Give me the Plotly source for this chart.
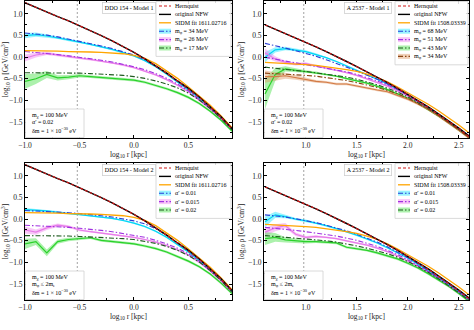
import plotly.graph_objects as go

# ---------------- data ----------------
x_ddo = [-1.0, -0.9, -0.8, -0.7, -0.6, -0.5, -0.4, -0.3, -0.2, -0.1,
         0.0, 0.1, 0.2, 0.3, 0.4, 0.5, 0.6, 0.7, 0.8, 0.9]
x_a = [0.6, 0.7, 0.8, 0.9, 1.0, 1.1, 1.2, 1.3, 1.4, 1.5, 1.6,
       1.7, 1.8, 1.9, 2.0, 2.1, 2.2, 2.3, 2.4, 2.5, 2.6]

# DDO 154
nfw_ddo = [1.26, 1.15, 1.05, 0.94, 0.84, 0.73, 0.62, 0.50, 0.38, 0.25,
           0.11, -0.04, -0.20, -0.37, -0.55, -0.72, -0.92, -1.14, -1.38, -1.65]
hern_ddo = [1.26, 1.15, 1.05, 0.94, 0.84, 0.73, 0.62, 0.50, 0.38, 0.25,
            0.11, -0.04, -0.20, -0.37, -0.55, -0.73, -0.93, -1.15, -1.39, -1.66]
sidm_ddo = [0.15, 0.15, 0.14, 0.14, 0.13, 0.13, 0.12, 0.11, 0.10, 0.08,
            0.04, -0.03, -0.15, -0.31, -0.49, -0.69, -0.89, -1.11, -1.36, -1.63]

# DDO 154 model 1 : m_phi = 34, 26, 17 MeV
ddo1_fit_34 = [0.56, 0.54, 0.51, 0.47, 0.42, 0.37, 0.32, 0.26, 0.20, 0.13,
               0.05, -0.06, -0.20, -0.37, -0.55, -0.73, -0.93, -1.15, -1.39, -1.66]
ddo1_sim_34 = [0.50, 0.52, 0.49, 0.45, 0.40, 0.35, 0.30, 0.24, 0.18, 0.11,
               0.03, -0.08, -0.22, -0.39, -0.57, -0.75, -0.95, -1.17, -1.40, -1.67]
ddo1_err_34 = [0.06, 0.05, 0.04, 0.03, 0.03, 0.02, 0.02, 0.02, 0.02, 0.02,
               0.02, 0.02, 0.02, 0.02, 0.02, 0.02, 0.02, 0.02, 0.02, 0.02]
ddo1_fit_26 = [0.13, 0.11, 0.09, 0.06, 0.03, 0.00, -0.03, -0.07, -0.11, -0.16,
               -0.22, -0.29, -0.38, -0.49, -0.62, -0.78, -0.97, -1.18, -1.41, -1.67]
ddo1_sim_26 = [-0.02, 0.05, 0.09, 0.05, 0.02, -0.02, -0.05, -0.09, -0.13, -0.18,
               -0.24, -0.32, -0.41, -0.52, -0.65, -0.80, -0.99, -1.20, -1.42, -1.68]
ddo1_err_26 = [0.08, 0.06, 0.04, 0.03, 0.03, 0.02, 0.02, 0.02, 0.02, 0.02,
               0.02, 0.02, 0.02, 0.02, 0.02, 0.02, 0.02, 0.02, 0.02, 0.02]
ddo1_fit_17 = [-0.36, -0.36, -0.36, -0.36, -0.37, -0.37, -0.38, -0.39, -0.40, -0.42,
               -0.45, -0.49, -0.55, -0.62, -0.71, -0.83, -0.99, -1.19, -1.42, -1.68]
ddo1_sim_17 = [-0.56, -0.50, -0.40, -0.48, -0.46, -0.43, -0.45, -0.47, -0.48, -0.50,
               -0.53, -0.58, -0.65, -0.73, -0.82, -0.93, -1.07, -1.25, -1.46, -1.71]
ddo1_err_17 = [0.17, 0.12, 0.08, 0.06, 0.05, 0.04, 0.03, 0.03, 0.03, 0.03,
               0.03, 0.03, 0.03, 0.03, 0.03, 0.03, 0.03, 0.03, 0.03, 0.03]

# DDO 154 model 2 : alpha' = 0.01, 0.015, 0.02
ddo2_fit_a1 = [0.20, 0.19, 0.18, 0.17, 0.15, 0.13, 0.11, 0.08, 0.05, 0.01,
               -0.04, -0.11, -0.22, -0.37, -0.54, -0.73, -0.93, -1.15, -1.39, -1.66]
ddo2_sim_a1 = [0.22, 0.21, 0.19, 0.16, 0.13, 0.11, 0.08, 0.05, 0.02, -0.03,
               -0.09, -0.17, -0.28, -0.42, -0.58, -0.76, -0.96, -1.17, -1.41, -1.67]
ddo2_err_a1 = [0.04, 0.03, 0.03, 0.03, 0.02, 0.02, 0.02, 0.02, 0.02, 0.02,
               0.02, 0.02, 0.02, 0.02, 0.02, 0.02, 0.02, 0.02, 0.02, 0.02]
ddo2_fit_a2 = [-0.14, -0.15, -0.16, -0.17, -0.19, -0.21, -0.23, -0.26, -0.29, -0.33,
               -0.37, -0.42, -0.49, -0.57, -0.67, -0.80, -0.97, -1.18, -1.41, -1.68]
ddo2_sim_a2 = [-0.25, -0.30, -0.20, -0.14, -0.17, -0.25, -0.29, -0.32, -0.35, -0.38,
               -0.42, -0.47, -0.53, -0.61, -0.71, -0.83, -1.00, -1.20, -1.43, -1.69]
ddo2_err_a2 = [0.08, 0.06, 0.05, 0.04, 0.03, 0.03, 0.02, 0.02, 0.02, 0.02,
               0.02, 0.02, 0.02, 0.02, 0.02, 0.02, 0.02, 0.02, 0.02, 0.02]
ddo2_fit_a3 = [-0.38, -0.38, -0.38, -0.39, -0.39, -0.40, -0.41, -0.42, -0.43, -0.45,
               -0.47, -0.51, -0.56, -0.63, -0.72, -0.84, -0.99, -1.19, -1.42, -1.69]
ddo2_sim_a3 = [-0.57, -0.52, -0.78, -0.52, -0.47, -0.45, -0.43, -0.49, -0.52, -0.54,
               -0.57, -0.62, -0.68, -0.76, -0.86, -0.97, -1.10, -1.27, -1.48, -1.72]
ddo2_err_a3 = [0.12, 0.08, 0.08, 0.05, 0.04, 0.03, 0.03, 0.03, 0.03, 0.03,
               0.03, 0.03, 0.03, 0.03, 0.03, 0.03, 0.03, 0.03, 0.03, 0.03]

# A 2537
nfw_a = [0.75, 0.65, 0.55, 0.45, 0.35, 0.24, 0.13, 0.02, -0.10, -0.22, -0.34,
         -0.46, -0.59, -0.72, -0.86, -1.00, -1.15, -1.31, -1.47, -1.64, -1.82]
hern_a = [0.75, 0.65, 0.55, 0.45, 0.35, 0.24, 0.13, 0.02, -0.10, -0.22, -0.34,
          -0.46, -0.59, -0.72, -0.86, -1.01, -1.16, -1.32, -1.48, -1.65, -1.84]
sidm_a = [-0.12, -0.13, -0.14, -0.16, -0.17, -0.19, -0.22, -0.25, -0.29, -0.33, -0.39,
          -0.47, -0.57, -0.69, -0.82, -0.95, -1.09, -1.24, -1.40, -1.57, -1.75]

# A 2537 model 1 : m_phi = 68, 51, 43, 34 MeV
a1_fit_68 = [0.32, 0.27, 0.21, 0.15, 0.09, 0.02, -0.06, -0.14, -0.23, -0.32, -0.41,
             -0.51, -0.62, -0.74, -0.87, -1.01, -1.16, -1.32, -1.48, -1.65, -1.83]
a1_sim_68 = [0.00, 0.17, 0.20, 0.17, 0.13, 0.06, -0.01, -0.10, -0.20, -0.30, -0.40,
             -0.51, -0.62, -0.75, -0.88, -1.02, -1.17, -1.33, -1.49, -1.66, -1.84]
a1_err_68 = [0.12, 0.06, 0.04, 0.03, 0.03, 0.03, 0.02, 0.02, 0.02, 0.02, 0.02,
             0.02, 0.02, 0.02, 0.02, 0.02, 0.02, 0.02, 0.02, 0.02, 0.02]
a1_fit_51 = [0.00, -0.05, -0.09, -0.13, -0.17, -0.21, -0.25, -0.29, -0.34, -0.40, -0.47,
             -0.55, -0.64, -0.75, -0.88, -1.02, -1.17, -1.33, -1.49, -1.66, -1.84]
a1_sim_51 = [0.10, -0.04, -0.12, -0.16, -0.15, -0.20, -0.26, -0.30, -0.36, -0.42, -0.50,
             -0.58, -0.67, -0.78, -0.90, -1.04, -1.19, -1.34, -1.50, -1.67, -1.85]
a1_err_51 = [0.10, 0.06, 0.04, 0.03, 0.03, 0.02, 0.02, 0.02, 0.02, 0.02, 0.02,
             0.02, 0.02, 0.02, 0.02, 0.02, 0.02, 0.02, 0.02, 0.02, 0.02]
a1_fit_43 = [-0.23, -0.26, -0.28, -0.31, -0.33, -0.36, -0.39, -0.42, -0.46, -0.51, -0.57,
             -0.64, -0.72, -0.81, -0.92, -1.05, -1.19, -1.34, -1.50, -1.67, -1.85]
a1_sim_43 = [-0.85, -0.40, -0.27, -0.30, -0.33, -0.36, -0.40, -0.44, -0.50, -0.55, -0.60,
             -0.67, -0.75, -0.85, -0.95, -1.07, -1.21, -1.36, -1.52, -1.69, -1.86]
a1_err_43 = [0.35, 0.15, 0.06, 0.04, 0.03, 0.03, 0.02, 0.02, 0.02, 0.02, 0.02,
             0.02, 0.02, 0.02, 0.02, 0.02, 0.02, 0.02, 0.02, 0.02, 0.02]
a1_fit_34 = [-0.37, -0.38, -0.39, -0.40, -0.42, -0.44, -0.47, -0.50, -0.54, -0.59, -0.64,
             -0.70, -0.77, -0.85, -0.95, -1.07, -1.20, -1.35, -1.51, -1.68, -1.86]
a1_sim_34 = [-0.45, -0.45, -0.43, -0.47, -0.52, -0.56, -0.58, -0.62, -0.62, -0.67, -0.72,
             -0.76, -0.80, -0.88, -0.97, -1.08, -1.21, -1.36, -1.52, -1.69, -1.87]
a1_err_34 = [0.14, 0.10, 0.07, 0.05, 0.04, 0.03, 0.03, 0.03, 0.03, 0.03, 0.03,
             0.03, 0.03, 0.03, 0.03, 0.03, 0.03, 0.03, 0.03, 0.03, 0.03]

# A 2537 model 2 : alpha' = 0.01, 0.015, 0.02
a2_fit_a1 = [0.10, 0.08, 0.05, 0.01, -0.03, -0.08, -0.14, -0.20, -0.27, -0.35, -0.44,
             -0.53, -0.64, -0.76, -0.89, -1.03, -1.18, -1.34, -1.50, -1.67, -1.85]
a2_sim_a1 = [-0.06, 0.10, 0.06, 0.00, -0.04, -0.09, -0.15, -0.22, -0.29, -0.37, -0.46,
             -0.55, -0.66, -0.78, -0.90, -1.04, -1.19, -1.35, -1.51, -1.68, -1.86]
a2_err_a1 = [0.12, 0.07, 0.04, 0.03, 0.03, 0.02, 0.02, 0.02, 0.02, 0.02, 0.02,
             0.02, 0.02, 0.02, 0.02, 0.02, 0.02, 0.02, 0.02, 0.02, 0.02]
a2_fit_a2 = [-0.19, -0.21, -0.23, -0.26, -0.29, -0.32, -0.35, -0.39, -0.44, -0.49, -0.56,
             -0.63, -0.72, -0.82, -0.94, -1.07, -1.21, -1.36, -1.52, -1.69, -1.87]
a2_sim_a2 = [-0.30, -0.20, -0.15, -0.35, -0.42, -0.40, -0.42, -0.45, -0.50, -0.55, -0.60,
             -0.67, -0.75, -0.85, -0.97, -1.09, -1.23, -1.38, -1.54, -1.71, -1.88]
a2_err_a2 = [0.10, 0.08, 0.06, 0.04, 0.03, 0.03, 0.02, 0.02, 0.02, 0.02, 0.02,
             0.02, 0.02, 0.02, 0.02, 0.02, 0.02, 0.02, 0.02, 0.02, 0.02]
a2_fit_a3 = [-0.38, -0.40, -0.41, -0.43, -0.45, -0.47, -0.50, -0.53, -0.57, -0.62, -0.67,
             -0.73, -0.80, -0.88, -0.98, -1.10, -1.23, -1.38, -1.53, -1.70, -1.88]
a2_sim_a3 = [-0.45, -0.42, -0.48, -0.50, -0.52, -0.52, -0.54, -0.55, -0.65, -0.68, -0.72,
             -0.78, -0.85, -0.92, -1.02, -1.13, -1.26, -1.40, -1.55, -1.72, -1.90]
a2_err_a3 = [0.15, 0.10, 0.06, 0.05, 0.04, 0.03, 0.03, 0.03, 0.03, 0.03, 0.03,
             0.03, 0.03, 0.03, 0.03, 0.03, 0.03, 0.03, 0.03, 0.03, 0.03]

r_core_line = [-0.52, 0.98, -0.52, 0.98]   # vertical dashed reference radius per panel

panel_titles = ["DDO 154 - Model 1", "A 2537 - Model 1", "DDO 154 - Model 2", "A 2537 - Model 2"]
sidm_labels = ["SIDM fit 1611.02716", "SIDM fit 1508.03339", "SIDM fit 1611.02716", "SIDM fit 1508.03339"]
ddo1_labels = ["m<sub>φ</sub> = 34 MeV", "m<sub>φ</sub> = 26 MeV", "m<sub>φ</sub> = 17 MeV"]
a1_labels = ["m<sub>φ</sub> = 68 MeV", "m<sub>φ</sub> = 51 MeV", "m<sub>φ</sub> = 43 MeV", "m<sub>φ</sub> = 34 MeV"]
m2_labels = ["α′ = 0.01", "α′ = 0.015", "α′ = 0.02"]
info_m1 = ["m<sub>χ</sub> = 100 MeV", "α′ = 0.02", "δm = 1 × 10<sup>−30</sup> eV"]
info_m2 = ["m<sub>χ</sub> = 100 MeV", "m<sub>φ</sub> ≤ 2m<sub>e</sub>", "δm = 1 × 10<sup>−30</sup> eV"]

# ---------------- styles ----------------
STY = [
    dict(fit="#2a3fd6", sim="#00d5f5", band="rgba(0,225,255,0.40)"),
    dict(fit="#a030e0", sim="#e77be8", band="rgba(240,130,240,0.45)"),
    dict(fit="#1f5a1f", sim="#2ad12a", band="rgba(70,225,70,0.45)"),
    dict(fit="#8b4513", sim="#d27a45", band="rgba(225,150,100,0.45)"),
]
DASHDOT = "5px,2px,1.5px,2px"
HERN_DASH = "3px,2px"
SERIF = "Liberation Serif"

fig = go.Figure()


def refs(i):
    return ("x" if i == 1 else f"x{i}", "y" if i == 1 else f"y{i}")


def add_panel(i, x, nfw, hern, sidm, series):
    xa, ya = refs(i)
    for k, (fit, sim, err) in enumerate(series):
        up = [a + b for a, b in zip(sim, err)]
        lo = [a - b for a, b in zip(sim, err)]
        fig.add_trace(go.Scatter(x=x, y=up, mode="lines", line=dict(width=0), xaxis=xa, yaxis=ya,
                                 showlegend=False, hoverinfo="skip"))
        fig.add_trace(go.Scatter(x=x, y=lo, mode="lines", line=dict(width=0), fill="tonexty",
                                 fillcolor=STY[k]["band"], xaxis=xa, yaxis=ya,
                                 showlegend=False, hoverinfo="skip"))
    for k, (fit, sim, err) in enumerate(series):
        fig.add_trace(go.Scatter(x=x, y=sim, mode="lines", line=dict(color=STY[k]["sim"], width=1.2),
                                 xaxis=xa, yaxis=ya, showlegend=False))
    for k, (fit, sim, err) in enumerate(series):
        fig.add_trace(go.Scatter(x=x, y=fit, mode="lines",
                                 line=dict(color=STY[k]["fit"], width=1.1, dash=DASHDOT),
                                 xaxis=xa, yaxis=ya, showlegend=False))
    fig.add_trace(go.Scatter(x=x, y=sidm, mode="lines", line=dict(color="#ffa500", width=1.3),
                             xaxis=xa, yaxis=ya, showlegend=False))
    fig.add_trace(go.Scatter(x=x, y=nfw, mode="lines", line=dict(color="black", width=1.4),
                             xaxis=xa, yaxis=ya, showlegend=False))
    fig.add_trace(go.Scatter(x=x, y=hern, mode="lines", line=dict(color="#d01818", width=1.2, dash=HERN_DASH),
                             xaxis=xa, yaxis=ya, showlegend=False))


add_panel(1, x_ddo, nfw_ddo, hern_ddo, sidm_ddo,
          [(ddo1_fit_34, ddo1_sim_34, ddo1_err_34), (ddo1_fit_26, ddo1_sim_26, ddo1_err_26),
           (ddo1_fit_17, ddo1_sim_17, ddo1_err_17)])
add_panel(2, x_a, nfw_a, hern_a, sidm_a,
          [(a1_fit_68, a1_sim_68, a1_err_68), (a1_fit_51, a1_sim_51, a1_err_51),
           (a1_fit_43, a1_sim_43, a1_err_43), (a1_fit_34, a1_sim_34, a1_err_34)])
add_panel(3, x_ddo, nfw_ddo, hern_ddo, sidm_ddo,
          [(ddo2_fit_a1, ddo2_sim_a1, ddo2_err_a1), (ddo2_fit_a2, ddo2_sim_a2, ddo2_err_a2),
           (ddo2_fit_a3, ddo2_sim_a3, ddo2_err_a3)])
add_panel(4, x_a, nfw_a, hern_a, sidm_a,
          [(a2_fit_a1, a2_sim_a1, a2_err_a1), (a2_fit_a2, a2_sim_a2, a2_err_a2),
           (a2_fit_a3, a2_sim_a3, a2_err_a3)])

# ---------------- layout ----------------
W, H = 474, 330
ML, MR, MT, MB = 25, 5, 1, 30
PW, PH = W - ML - MR, H - MT - MB
# panel pixel boxes: left, top, width, height
PANEL = {1: (25, 1, 207, 137), 2: (264, 1, 205, 137), 3: (25, 163, 207, 137), 4: (264, 163, 205, 137)}


def dom(i):
    l, t, w, h = PANEL[i]
    return ([(l - ML) / PW, (l + w - ML) / PW], [(H - MB - (t + h)) / PH, (H - MB - t) / PH])


xr = {1: [-1.0, 0.9], 2: [0.59, 2.6], 3: [-1.0, 0.9], 4: [0.59, 2.6]}
yr = [-1.87, 1.3]
tickfont = dict(family=SERIF, size=7.5, color="#222")
titlefont = dict(family=SERIF, size=7.5, color="#222")

lay = {}
for i in range(1, 5):
    xd, yd = dom(i)
    sx = "" if i == 1 else str(i)
    common = dict(showline=True, linecolor="black", linewidth=0.8, mirror="ticks", ticks="inside",
                  ticklen=3.5, tickwidth=0.7, tickcolor="black", showgrid=False, zeroline=False,
                  tickfont=tickfont, dtick=0.5, tick0=0, tickformat=".1f",
                  minor=dict(ticks="inside", ticklen=2, dtick=0.25, tick0=0, tickcolor="black",
                             tickwidth=0.6, showgrid=False))
    lay["xaxis" + sx] = dict(common, domain=xd, range=xr[i], anchor="y" + sx,
                             title=dict(text="log<sub>10</sub> r [kpc]", font=titlefont, standoff=0))
    lay["yaxis" + sx] = dict(common, domain=yd, range=yr, anchor="x" + sx,
                             title=dict(text="log<sub>10</sub> ρ [GeV/cm<sup>3</sup>]", font=titlefont, standoff=2))

fig.update_layout(width=W, height=H, margin=dict(l=ML, r=MR, t=MT, b=MB), paper_bgcolor="white",
                  plot_bgcolor="white", showlegend=False, **lay)

shapes = []
annots = []


def dref(i):
    xa, ya = refs(i)
    return xa + " domain", ya + " domain"


def fx(i, dx):
    return dx / PANEL[i][2]


def fy(i, dy):
    return 1 - dy / PANEL[i][3]


LEG_FONT = dict(family=SERIF, size=6, color="black")

for i in range(1, 5):
    xa, ya = refs(i)
    xd_, yd_ = dref(i)
    # vertical dashed line
    shapes.append(dict(type="line", xref=xa, yref=yd_, x0=r_core_line[i - 1], x1=r_core_line[i - 1],
                       y0=0, y1=1, line=dict(color="#8a8a8a", width=0.8, dash="2px,2px"), layer="below"))
    # title box
    annots.append(dict(xref=xd_, yref=yd_, x=fx(i, 104), y=fy(i, 6.5), text=panel_titles[i - 1],
                       showarrow=False, xanchor="center", yanchor="middle", font=LEG_FONT,
                       bgcolor="white", bordercolor="#d0d0d0", borderwidth=0.8, borderpad=2))

    # legend
    if i == 1:
        extra = ddo1_labels
    elif i == 2:
        extra = a1_labels
    else:
        extra = m2_labels
    labels = ["Hernquist", "original NFW", sidm_labels[i - 1]] + extra
    n = len(labels)
    step = 8.4
    bx0 = 131
    bx1 = PANEL[i][2] - 1
    shapes.append(dict(type="rect", xref=xd_, yref=yd_, x0=fx(i, bx0), x1=fx(i, bx1),
                       y0=fy(i, 0.5), y1=fy(i, 5 + step * n), fillcolor="rgba(255,255,255,0.85)",
                       line=dict(color="#d0d0d0", width=0.8)))
    sx0, sx1, tx = bx0 + 3, bx0 + 15, bx0 + 17
    for k, lab in enumerate(labels):
        yy = fy(i, 5 + step * k)
        if k == 0:
            shapes.append(dict(type="line", xref=xd_, yref=yd_, x0=fx(i, sx0), x1=fx(i, sx1), y0=yy, y1=yy,
                               line=dict(color="#d01818", width=1.2, dash=HERN_DASH)))
        elif k == 1:
            shapes.append(dict(type="line", xref=xd_, yref=yd_, x0=fx(i, sx0), x1=fx(i, sx1), y0=yy, y1=yy,
                               line=dict(color="black", width=1.4)))
        elif k == 2:
            shapes.append(dict(type="line", xref=xd_, yref=yd_, x0=fx(i, sx0), x1=fx(i, sx1), y0=yy, y1=yy,
                               line=dict(color="#ffa500", width=1.3)))
        else:
            s = STY[k - 3]
            shapes.append(dict(type="rect", xref=xd_, yref=yd_, x0=fx(i, sx0), x1=fx(i, sx1),
                               y0=fy(i, 5 + step * k - 2.5), y1=fy(i, 5 + step * k + 2.5),
                               fillcolor=s["band"], line=dict(width=0)))
            shapes.append(dict(type="line", xref=xd_, yref=yd_, x0=fx(i, sx0), x1=fx(i, sx1), y0=yy, y1=yy,
                               line=dict(color=s["fit"], width=1.1, dash=DASHDOT)))
        annots.append(dict(xref=xd_, yref=yd_, x=fx(i, tx), y=yy, text=lab, showarrow=False,
                           xanchor="left", yanchor="middle", font=LEG_FONT))

    # info box bottom-left
    info = info_m1 if i in (1, 2) else info_m2
    shapes.append(dict(type="rect", xref=xd_, yref=yd_, x0=fx(i, 0.5), x1=fx(i, 59),
                       y0=fy(i, 136.5), y1=fy(i, 108), fillcolor="white",
                       line=dict(color="#d0d0d0", width=0.8)))
    for k, t in enumerate(info):
        annots.append(dict(xref=xd_, yref=yd_, x=fx(i, 5), y=fy(i, 114 + 7.3 * k), text=t, showarrow=False,
                           xanchor="left", yanchor="middle", font=LEG_FONT))

fig.update_layout(shapes=shapes, annotations=annots)
fig.write_html("out.html")
